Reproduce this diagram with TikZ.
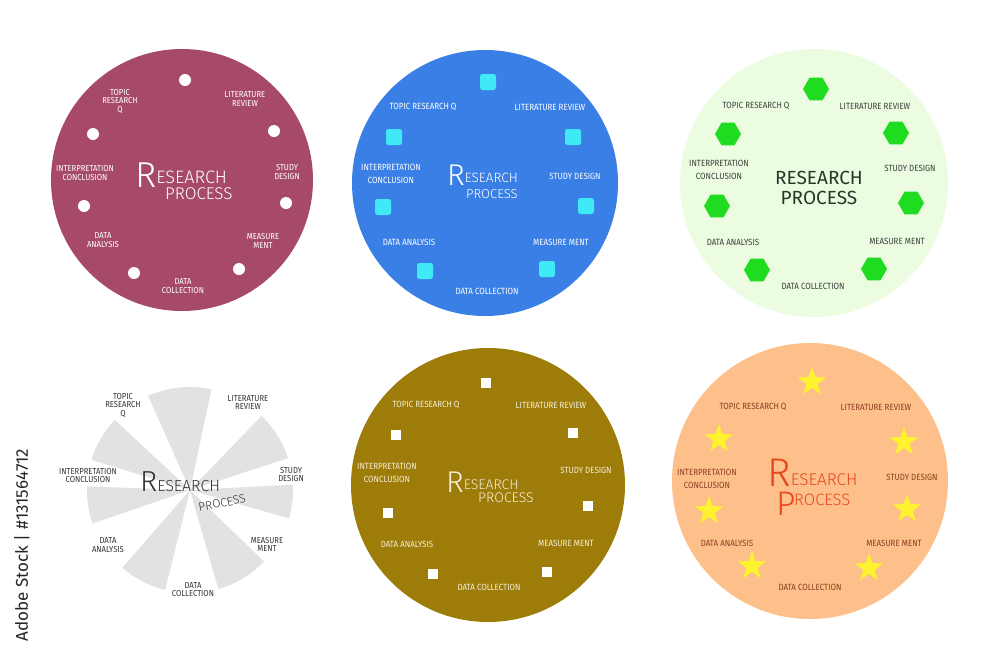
\documentclass[tikz,border=0pt]{standalone}
\usepackage{fontspec}
\setmainfont{Fira Sans}
\newfontfamily\labelfont{Fira Sans}[FakeStretch=0.88]
\IfFontExistsTF{Fira Sans Light}
  {\newfontfamily\thinfont{Fira Sans Light}}
  {\newfontfamily\thinfont{Fira Sans}}
\usetikzlibrary{shapes.geometric,positioning}

\definecolor{maroonfill}{HTML}{A64A68}
\definecolor{bluefill}{HTML}{3A7FE6}
\definecolor{cyanbox}{HTML}{3FE9F5}
\definecolor{mintfill}{HTML}{EBFCE1}
\definecolor{hexgreen}{HTML}{20DC20}
\definecolor{mintlabel}{HTML}{3A3F3A}
\definecolor{minttitle}{HTML}{25392A}
\definecolor{wedgegray}{HTML}{E2E2E2}
\definecolor{graylabel}{HTML}{343434}
\definecolor{olivefill}{HTML}{9D7C0A}
\definecolor{olivelabel}{HTML}{F6EFD6}
\definecolor{peachfill}{HTML}{FDC08A}
\definecolor{staryellow}{HTML}{FFF22E}
\definecolor{peachlabel}{HTML}{8E3B22}
\definecolor{peachtitle}{HTML}{E8461C}

\tikzset{
  lbl/.style={font=\labelfont\fontsize{8.7}{8.5}\selectfont, align=center, inner sep=0pt},
  widelbl/.style={lbl, font=\labelfont\fontsize{9}{13}\selectfont},
  whitedot/.style={circle, fill=white, minimum size=12pt, inner sep=0pt},
  bluebox/.style={rectangle, rounded corners=2.5pt, fill=cyanbox, minimum size=16pt, inner sep=0pt},
  hexmark/.style={regular polygon, regular polygon sides=6, fill=hexgreen, minimum size=26pt, inner sep=0pt},
  whitebox/.style={rectangle, fill=white, minimum size=10pt, inner sep=0pt},
  staricon/.style={star, star points=5, star point ratio=2.5, fill=staryellow, minimum size=30pt, inner sep=0pt},
  title/.style={font=\thinfont, inner sep=0pt, anchor=base west}
}

\begin{document}
\begin{tikzpicture}[x=1pt, y=-1pt]

	% Page
	\fill [white] (0,0) rectangle (1000,667);
	\useasboundingbox (0,0) rectangle (1000,667);

	% Stock id along the left edge
	\node (stockid) [rotate=90, text=black!85, font=\fontsize{17}{17}\selectfont] at (22,545) {Adobe Stock | \#131564712};

	% 1 - maroon disc with white dots
	\fill [maroonfill] (182,180) circle [radius=131];
	\foreach \x/\y [count=\i] in {185/80, 274/131, 286/203, 239/269, 134/273, 84/206, 93/134}
		\node (dotA\i) [whitedot] at (\x,\y) {};
	\node (titleA) [title, text=white] at (135,187) {\fontsize{36}{36}\selectfont R\raisebox{4pt}{\fontsize{18}{18}\selectfont ESEARCH}};
	\node (procA) [title, text=white, font=\thinfont\fontsize{17}{17}\selectfont] at (165,199) {PROCESS};
	\node (topicA) [lbl, white] at (120,101) {TOPIC\\RESEARCH\\Q};
	\node (litA) [lbl, white] at (245,99) {LITERATURE\\REVIEW};
	\node (studyA) [lbl, white] at (287,172) {STUDY\\DESIGN};
	\node (measA) [lbl, white] at (263,241) {MEASURE\\MENT};
	\node (collA) [lbl, white] at (183,286) {DATA\\COLLECTION};
	\node (analA) [lbl, white] at (103,240) {DATA\\ANALYSIS};
	\node (interA) [lbl, white] at (85,173) {INTERPRETATION\\CONCLUSION};

	% 2 - blue disc with cyan boxes
	\fill [bluefill] (485,183) circle [radius=133];
	\foreach \x/\y [count=\i] in {488/82, 573/137, 586/206, 547/269, 425/271, 383/207, 394/137}
		\node (boxB\i) [bluebox] at (\x,\y) {};
	\node (titleB) [title, text=white] at (447,185) {\fontsize{30}{30}\selectfont R\raisebox{3pt}{\fontsize{13.5}{13.5}\selectfont ESEARCH}};
	\node (procB) [title, text=white, font=\thinfont\fontsize{13}{13}\selectfont] at (466,198) {PROCESS};
	\node (topicB) [widelbl, white] at (423,107) {TOPIC RESEARCH Q};
	\node (litB) [widelbl, white] at (550,107) {LITERATURE REVIEW};
	\node (studyB) [widelbl, white] at (575,176) {STUDY DESIGN};
	\node (measB) [widelbl, white] at (561,242) {MEASURE MENT};
	\node (collB) [widelbl, white] at (487,291) {DATA COLLECTION};
	\node (analB) [widelbl, white] at (409,242) {DATA ANALYSIS};
	\node (interB) [widelbl, white] at (391,174) {INTERPRETATION\\CONCLUSION};

	% 3 - mint disc with green hexagons
	\fill [mintfill] (814,183) circle [radius=134];
	\foreach \x/\y [count=\i] in {816/89, 896/133, 911/203, 874/269, 757/270, 717/206, 728/134}
		\node (hexC\i) [hexmark] at (\x,\y) {};
	\node (titleC) [text=minttitle, font=\fontsize{19}{19}\selectfont, inner sep=0pt, anchor=base] at (819,184) {RESEARCH};
	\node (procC) [text=minttitle, font=\fontsize{19}{19}\selectfont, inner sep=0pt, anchor=base] at (819,204) {PROCESS};
	\node (topicC) [widelbl, mintlabel] at (756,106) {TOPIC RESEARCH Q};
	\node (litC) [widelbl, mintlabel] at (875,106) {LITERATURE REVIEW};
	\node (studyC) [widelbl, mintlabel] at (910,168) {STUDY DESIGN};
	\node (measC) [widelbl, mintlabel] at (897,241) {MEASURE MENT};
	\node (collC) [widelbl, mintlabel] at (813,286) {DATA COLLECTION};
	\node (analC) [widelbl, mintlabel] at (733,242) {DATA ANALYSIS};
	\node (interC) [widelbl, mintlabel] at (719,169.5) {INTERPRETATION\\CONCLUSION};

	% 4 - gray pinwheel
	\foreach \a/\b in {-114/-78, -46/-18, -3/16, 44/74, 104/131, -199/-178, -163/-137}
		\fill [wedgegray] (190,490) -- ++(\a:103) arc [start angle=\a, end angle=\b, radius=103] -- cycle;
	\node (titleD) [title, text=graylabel] at (140,491) {\fontsize{29}{29}\selectfont R\fontsize{16}{16}\selectfont ESEARCH};
	\node (procD) [text=graylabel, font=\thinfont\fontsize{12}{12}\selectfont, inner sep=0pt, rotate=11] at (222,503) {PROCESS};
	\node (topicD) [lbl, graylabel] at (123,405) {TOPIC\\RESEARCH\\Q};
	\node (litD) [lbl, graylabel] at (248,402.5) {LITERATURE\\REVIEW};
	\node (studyD) [lbl, graylabel] at (291,474.5) {STUDY\\DESIGN};
	\node (measD) [lbl, graylabel] at (267,544.5) {MEASURE\\MENT};
	\node (collD) [lbl, graylabel] at (193,589.5) {DATA\\COLLECTION};
	\node (analD) [lbl, graylabel] at (108,545) {DATA\\ANALYSIS};
	\node (interD) [lbl, graylabel] at (88,475.5) {INTERPRETATION\\CONCLUSION};

	% 5 - olive disc with white boxes
	\fill [olivefill] (488,485) circle [radius=137];
	\foreach \x/\y [count=\i] in {486/383, 573/433, 588/506, 547/572, 433/574, 388/513, 396/435}
		\node (boxE\i) [whitebox] at (\x,\y) {};
	\node (titleE) [title, text=olivelabel] at (446,492) {\fontsize{30}{30}\selectfont R\raisebox{3pt}{\fontsize{14}{14}\selectfont ESEARCH}};
	\node (procE) [title, text=olivelabel, font=\thinfont\fontsize{14}{14}\selectfont] at (478,502) {PROCESS};
	\node (topicE) [widelbl, olivelabel] at (426,405) {TOPIC RESEARCH Q};
	\node (litE) [widelbl, olivelabel] at (551,405) {LITERATURE REVIEW};
	\node (studyE) [widelbl, olivelabel] at (586,470) {STUDY DESIGN};
	\node (measE) [widelbl, olivelabel] at (566,543) {MEASURE MENT};
	\node (collE) [widelbl, olivelabel] at (489,587) {DATA COLLECTION};
	\node (analE) [widelbl, olivelabel] at (407,544) {DATA ANALYSIS};
	\node (interE) [widelbl, olivelabel] at (387,473) {INTERPRETATION\\CONCLUSION};

	% 6 - peach disc with yellow stars
	\fill [peachfill] (810,481) circle [radius=138];
	\foreach \x/\y [count=\i] in {812/382, 904/442, 907/509, 869/568, 752/566, 709/511, 719/439}
		\node (starF\i) [staricon] at (\x,\y) {};
	\node (titleF) [title, text=peachtitle] at (767,486) {\fontsize{40}{40}\selectfont R\raisebox{1pt}{\fontsize{17}{17}\selectfont ESEARCH}};
	\node (capF) [title, text=peachtitle, font=\thinfont\fontsize{34}{34}\selectfont] at (776,515) {P};
	\node (procF) [title, text=peachtitle, font=\thinfont\fontsize{16.5}{16.5}\selectfont] at (794,505) {ROCESS};
	\node (topicF) [widelbl, peachlabel] at (753,407) {TOPIC RESEARCH Q};
	\node (litF) [widelbl, peachlabel] at (876,407) {LITERATURE REVIEW};
	\node (studyF) [widelbl, peachlabel] at (912,477) {STUDY DESIGN};
	\node (measF) [widelbl, peachlabel] at (894,543) {MEASURE MENT};
	\node (collF) [widelbl, peachlabel] at (810,587) {DATA COLLECTION};
	\node (analF) [widelbl, peachlabel] at (727,543) {DATA ANALYSIS};
	\node (interF) [widelbl, peachlabel] at (707,478.5) {INTERPRETATION\\CONCLUSION};

\end{tikzpicture}
\end{document}
